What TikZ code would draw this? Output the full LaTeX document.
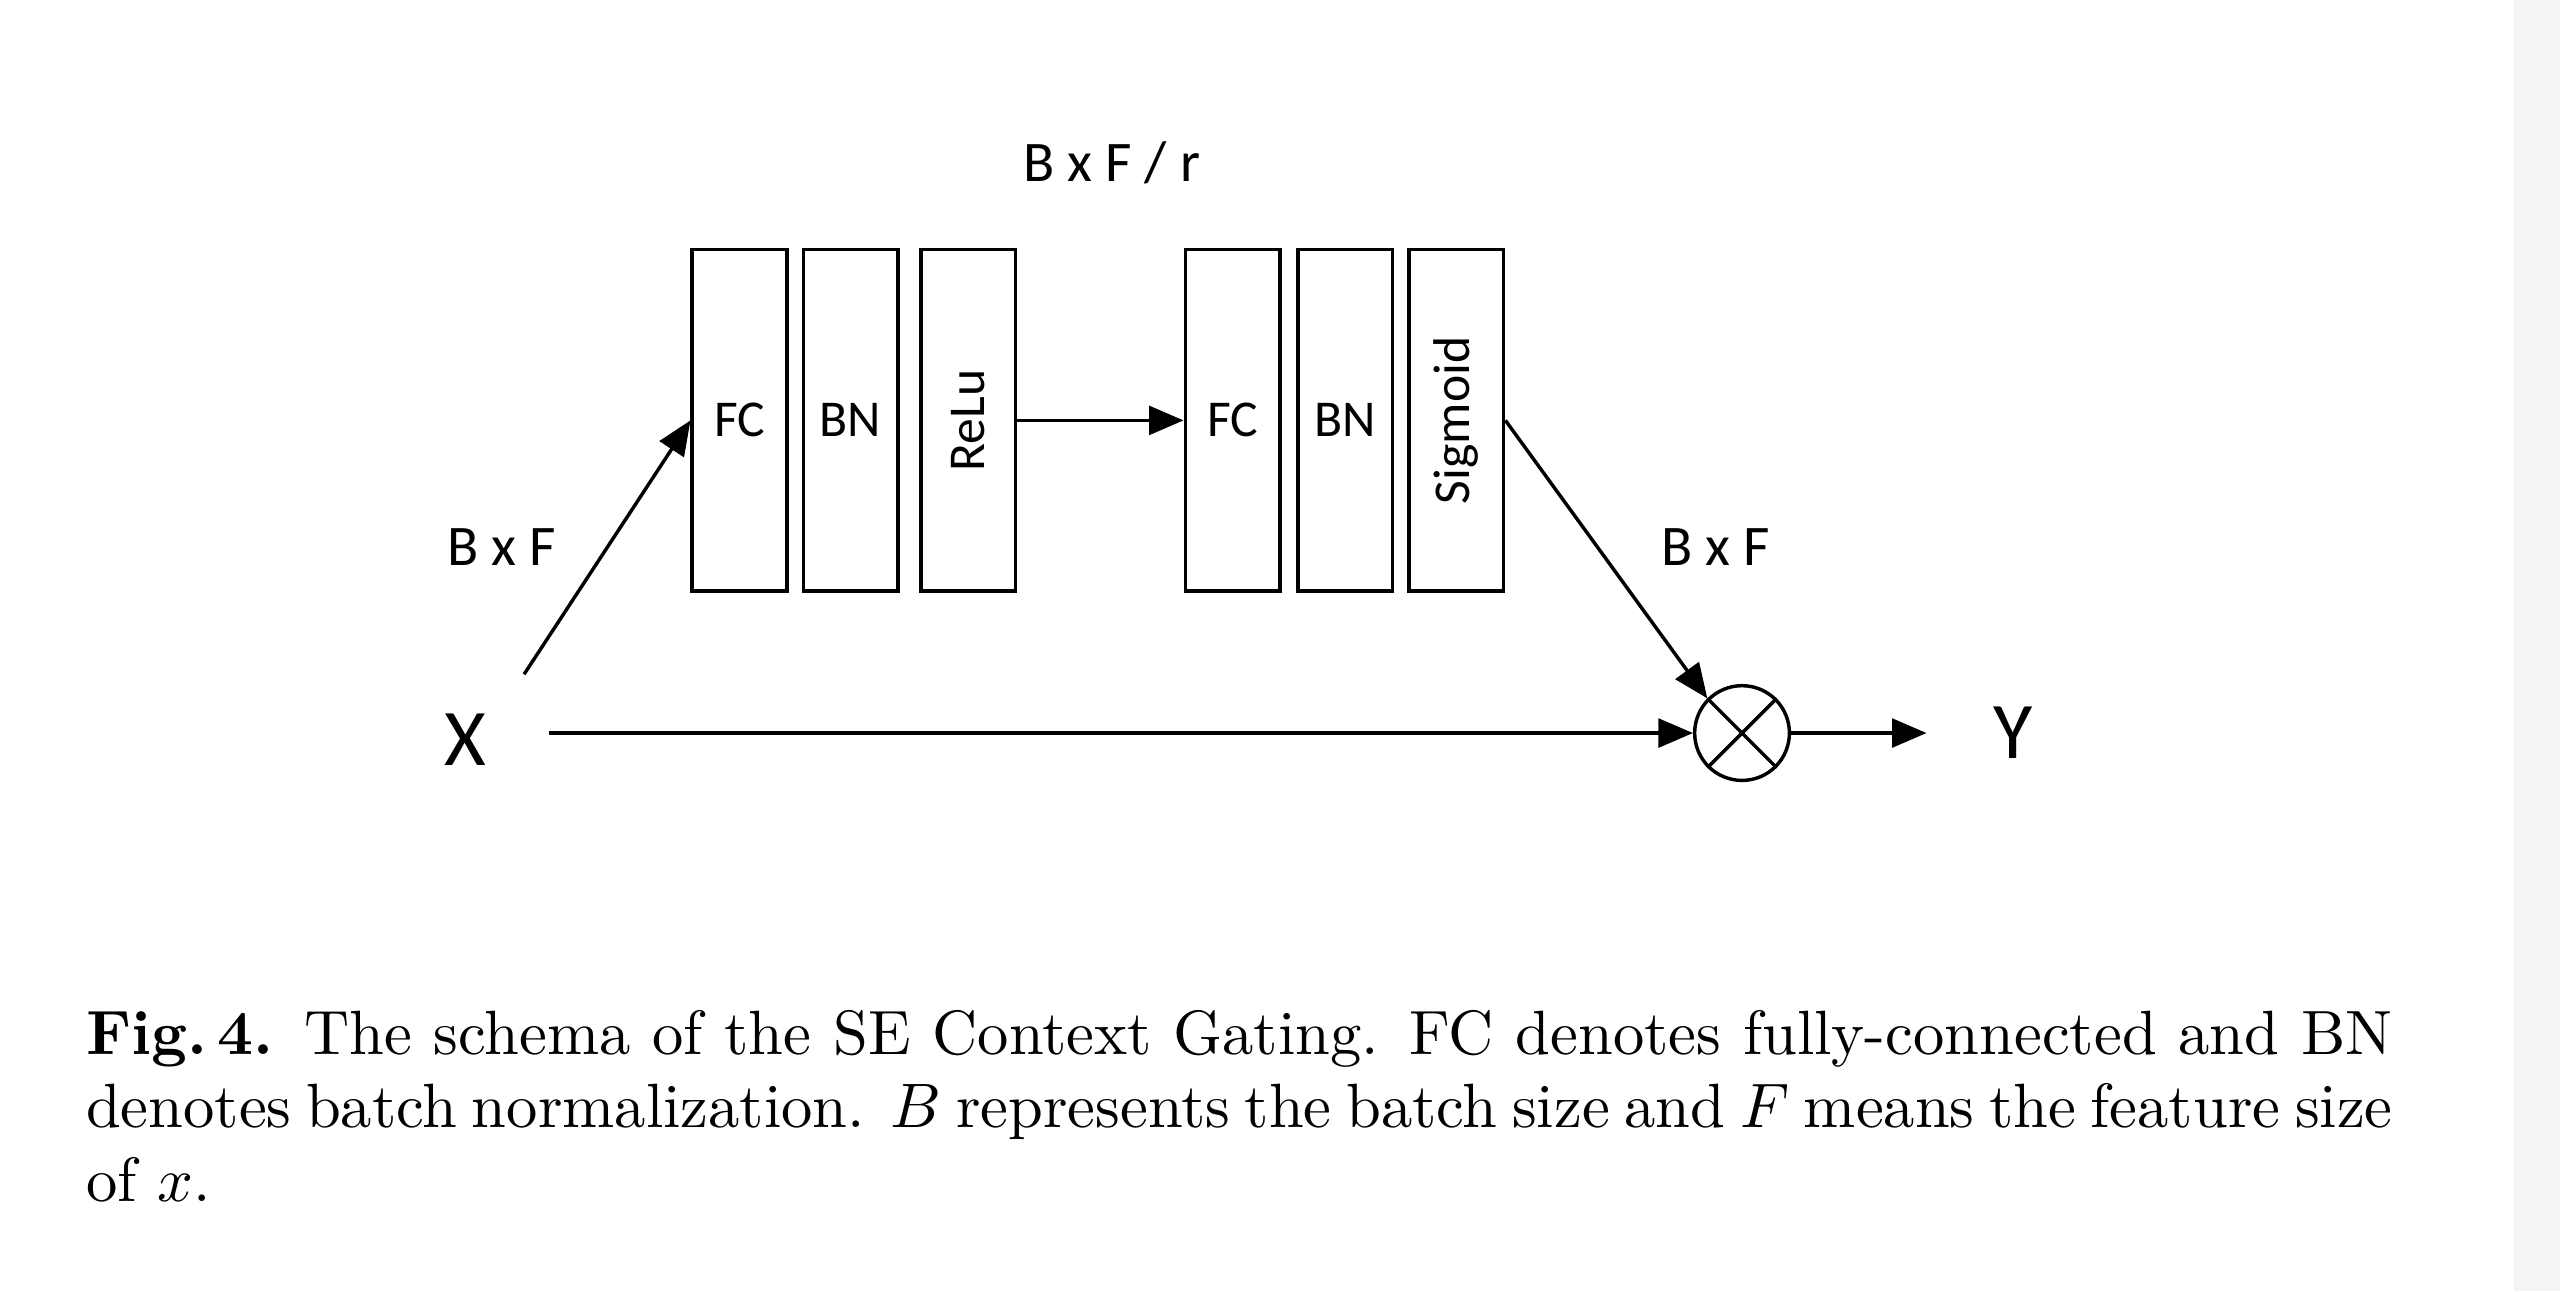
\documentclass[tikz,border=0pt]{standalone}
\usepackage{fontspec}
\setmainfont{Latin Modern Roman}
\newfontfamily\diag{Carlito}
\usetikzlibrary{arrows.meta}
\begin{document}
\begin{tikzpicture}[x=0.01cm,y=-0.01cm,
  layer/.style={draw, semithick, minimum width=0.58cm, minimum height=2.09cm, inner sep=0pt, font=\diag\fontsize{9}{10}\selectfont},
  dim/.style={font=\diag\fontsize{10}{12}\selectfont},
  io/.style={font=\diag\fontsize{14}{16}\selectfont},
  conn/.style={semithick, -{Triangle[length=6pt,width=5pt]}}]
\useasboundingbox (0,0) rectangle (1568,791);
\fill[black!4] (1540,0) rectangle (1568,791);

\node[layer] (fc1) at (453,257.5) {FC};
\node[layer] (bn1) at (521,257.5) {BN};
\node[layer] (relu) at (593,257.5) {\rotatebox{90}{ReLu}};
\node[layer] (fc2) at (755,257.5) {FC};
\node[layer] (bn2) at (824,257.5) {BN};
\node[layer] (sig) at (892,257.5) {\rotatebox{90}{Sigmoid}};

\node[draw, semithick, circle, minimum size=0.58cm, inner sep=0pt] (mul) at (1067,449) {};
\draw[semithick] (mul.north west) -- (mul.south east);
\draw[semithick] (mul.north east) -- (mul.south west);

\node[io] (x) at (285,453) {X};
\node[io] (y) at (1233,449) {Y};
\coordinate (xs) at (336,449);
\coordinate (xd) at (321,413);
\coordinate (ye) at (1180,449);

\node[dim] (d1) at (681,100) {B x F / r};
\node[dim] (d2) at (307,335) {B x F};
\node[dim] (d3) at (1051,335) {B x F};

\draw[conn] (xs) -- (mul.west);
\draw[conn] (xd) -- (fc1.west);
\draw[conn] (relu.east) -- (fc2.west);
\draw[conn] (sig.east) -- (mul.north west);
\draw[conn] (mul.east) -- (ye);

\node[anchor=north west, text width=14.12cm, align=justify, inner sep=0pt,
  font=\fontsize{10.9}{12.8}\selectfont] (cap) at (52,618)
  {\textbf{Fig.\,4.} The schema of the SE Context Gating. FC denotes fully-connected and BN\linebreak
   denotes batch normalization. $B$ represents the batch size and $F$ means the feature size\linebreak
   of $x$.};
\end{tikzpicture}
\end{document}
